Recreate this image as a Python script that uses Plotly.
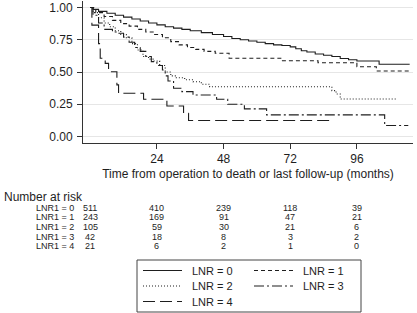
import plotly.graph_objects as go

# ---- data ----
groups = ["LNR = 0", "LNR = 1", "LNR = 2", "LNR = 3", "LNR = 4"]
risk_labels = ["LNR1 = 0", "LNR1 = 1", "LNR1 = 2", "LNR1 = 3", "LNR1 = 4"]

t0 = [0, 1, 3, 6, 9, 12, 15, 18, 21, 24, 27, 30, 33, 36, 40, 44, 48, 51, 54, 57, 60, 63, 66, 69, 72, 74, 76, 78, 81, 84, 87, 90, 93, 96, 104, 115]
s0 = [1, 0.985, 0.97, 0.955, 0.94, 0.925, 0.91, 0.895, 0.88, 0.865, 0.85, 0.84, 0.83, 0.82, 0.805, 0.79, 0.775, 0.76, 0.75, 0.74, 0.73, 0.72, 0.71, 0.705, 0.695, 0.68, 0.665, 0.655, 0.64, 0.63, 0.62, 0.605, 0.595, 0.585, 0.56, 0.56]

t1 = [0, 2, 5, 8, 11, 14, 17, 20, 23, 26, 29, 32, 35, 38, 41, 45, 50, 69, 82, 96, 103, 115]
s1 = [1, 0.96, 0.93, 0.9, 0.875, 0.855, 0.83, 0.81, 0.79, 0.765, 0.735, 0.71, 0.69, 0.675, 0.66, 0.645, 0.606, 0.587, 0.572, 0.541, 0.508, 0.508]

t2 = [0, 1, 3, 5, 7, 9, 11, 13, 15, 17, 19, 21, 23, 25, 27, 29, 31, 34, 37, 40, 43, 87, 88.5, 90, 110]
s2 = [1, 0.96, 0.92, 0.88, 0.85, 0.82, 0.79, 0.765, 0.72, 0.67, 0.62, 0.6, 0.585, 0.55, 0.5, 0.47, 0.455, 0.44, 0.425, 0.405, 0.386, 0.356, 0.33, 0.291, 0.291]

t3 = [0, 1, 3, 5, 8, 10, 12, 14, 16, 18, 20, 22, 24, 26, 27, 28, 30, 33, 37, 45.5, 49.5, 55.5, 63.5, 106, 114.5]
s3 = [1, 0.94, 0.88, 0.83, 0.81, 0.8, 0.77, 0.73, 0.69, 0.66, 0.62, 0.58, 0.55, 0.515, 0.47, 0.43, 0.374, 0.348, 0.322, 0.289, 0.25, 0.214, 0.168, 0.085, 0.085]

t4 = [0, 0.6, 3, 3.6, 5.4, 6.6, 9.6, 10.2, 19.2, 27.6, 33.6, 35.4, 86]
s4 = [1, 0.863, 0.72, 0.606, 0.567, 0.502, 0.40, 0.335, 0.289, 0.237, 0.18, 0.124, 0.124]

risk_times = [0, 24, 48, 72, 96]
risk0 = [511, 410, 239, 118, 39]
risk1 = [243, 169, 91, 47, 21]
risk2 = [105, 59, 30, 21, 6]
risk3 = [42, 18, 8, 3, 2]
risk4 = [21, 6, 2, 1, 0]

x_ticks = [24, 48, 72, 96]
y_ticks = [0, 0.25, 0.5, 0.75, 1.0]

# ---- styling ----
W, H = 417, 313
L, R, T, B = 83, 413, 1, 143
FONT = "Liberation Sans, Arial, sans-serif"
INK = "#1e1e1e"
dashes = ["solid", "4px,3px", "1px,2px", "10px,3px,2px,3px", "12px,5px"]


def px(x):
    return (x - L) / (R - L)


def py(y):
    return (B - y) / (B - T)


times = [t0, t1, t2, t3, t4]
survs = [s0, s1, s2, s3, s4]
risks = [risk0, risk1, risk2, risk3, risk4]

fig = go.Figure()
for name, t, s, d in zip(groups, times, survs, dashes):
    fig.add_trace(go.Scatter(x=t, y=s, mode="lines", name=name, line_shape="hv",
                             line=dict(color=INK, width=1.1, dash=d), showlegend=False))

annotations = []
shapes = []

annotations.append(dict(text="Number at risk", xref="paper", yref="paper",
                        x=px(2), y=py(197), xanchor="left", yanchor="middle",
                        showarrow=False, font=dict(size=12, color=INK, family=FONT)))
row_y = [208, 217.5, 227, 236.5, 246]
for lab, vals, ry in zip(risk_labels, risks, row_y):
    annotations.append(dict(text=lab, xref="paper", yref="paper", x=px(34), y=py(ry),
                            xanchor="left", yanchor="middle", showarrow=False,
                            font=dict(size=9, color=INK, family=FONT)))
    for tt, v in zip(risk_times, vals):
        annotations.append(dict(text=str(v), xref="x", yref="paper", x=tt, y=py(ry),
                                xanchor="center", yanchor="middle", showarrow=False,
                                font=dict(size=9, color=INK, family=FONT)))

# legend box (drawn)
shapes.append(dict(type="rect", xref="paper", yref="paper", x0=px(137), x1=px(361),
                   y0=py(260), y1=py(312), line=dict(color="#444", width=1)))
leg_pos = [(143, 270.5), (254, 270.5), (143, 286), (254, 286), (143, 301.5)]
for name, d, (lx, ly) in zip(groups, dashes, leg_pos):
    shapes.append(dict(type="line", xref="paper", yref="paper", x0=px(lx), x1=px(lx + 39),
                       y0=py(ly), y1=py(ly), line=dict(color=INK, width=1.1, dash=d)))
    annotations.append(dict(text=name, xref="paper", yref="paper", x=px(lx + 47), y=py(ly),
                            xanchor="left", yanchor="middle", showarrow=False,
                            font=dict(size=11, color=INK, family=FONT)))

fig.update_layout(
    width=W, height=H,
    margin=dict(l=L, r=W - R, t=T, b=H - B),
    paper_bgcolor="white", plot_bgcolor="white",
    font=dict(family=FONT, size=12, color=INK),
    showlegend=False,
    annotations=annotations,
    shapes=shapes,
)
fig.update_xaxes(range=[-2.6, 116.2], tickvals=x_ticks, ticks="outside", ticklen=5,
                 tickcolor="#333", showline=True, linecolor="#333", linewidth=1,
                 showgrid=False, zeroline=False, tickfont=dict(size=12),
                 title=dict(text="Time from operation to death or last follow-up (months)",
                            font=dict(size=12), standoff=4))
fig.update_yaxes(range=[-0.05, 1.05], tickvals=y_ticks, tickformat=".2f", ticks="outside",
                 ticklen=5, tickcolor="#333", showline=True, linecolor="#333", linewidth=1,
                 showgrid=True, gridcolor="#e6e6e6", gridwidth=1, zeroline=False,
                 tickfont=dict(size=12), ticklabelstandoff=2)

fig.write_html("out.html", config={"displayModeBar": False},
               post_script="document.body.style.margin='0';"
                           "document.documentElement.style.overflow='hidden';")
